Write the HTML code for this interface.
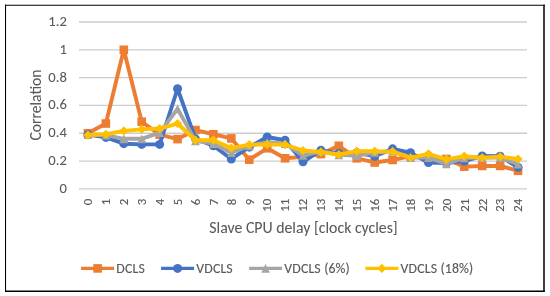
<!DOCTYPE html>
<html><head><meta charset="utf-8"><title>Correlation vs Slave CPU delay</title>
<style>
html,body{margin:0;padding:0;background:#fff;}
body{width:550px;height:296px;overflow:hidden;}
svg{display:block;}
text{font-family:Carlito,"Liberation Sans",sans-serif;font-size-adjust:ch-width 0.5068359375;fill:#595959;stroke:#595959;stroke-width:0.3px;}
.yl{font-size:14.6px;text-anchor:end;stroke-width:0.06px;}
.xl{font-size:12.8px;text-anchor:end;stroke-width:0.12px;}
.lg{font-size:13.8px;letter-spacing:0.15px;stroke-width:0.12px;}
.tt{font-size:15.8px;stroke-width:0.05px;}
.yt{font-size:15.6px;text-anchor:middle;stroke-width:0.05px;}
</style></head><body>
<svg width="550" height="296" viewBox="0 0 550 296">
<line x1="79" y1="188.9" x2="527" y2="188.9" stroke="#CDCDCD" stroke-width="1.3"/>
<line x1="79" y1="161.08" x2="527" y2="161.08" stroke="#CDCDCD" stroke-width="1.3"/>
<line x1="79" y1="133.26" x2="527" y2="133.26" stroke="#CDCDCD" stroke-width="1.3"/>
<line x1="79" y1="105.44" x2="527" y2="105.44" stroke="#CDCDCD" stroke-width="1.3"/>
<line x1="79" y1="77.62" x2="527" y2="77.62" stroke="#CDCDCD" stroke-width="1.3"/>
<line x1="79" y1="49.8" x2="527" y2="49.8" stroke="#CDCDCD" stroke-width="1.3"/>
<line x1="79" y1="21.98" x2="527" y2="21.98" stroke="#CDCDCD" stroke-width="1.3"/>
<text x="66.8" y="192.8" class="yl">0</text>
<text x="66.8" y="164.98" class="yl">0.2</text>
<text x="66.8" y="137.16" class="yl">0.4</text>
<text x="66.8" y="109.34" class="yl">0.6</text>
<text x="66.8" y="81.52" class="yl">0.8</text>
<text x="66.8" y="53.7" class="yl">1</text>
<text x="66.8" y="25.88" class="yl">1.2</text>
<text transform="translate(92.26,198.7) rotate(-90)" class="xl">0</text>
<text transform="translate(110.18,198.7) rotate(-90)" class="xl">1</text>
<text transform="translate(128.1,198.7) rotate(-90)" class="xl">2</text>
<text transform="translate(146.02,198.7) rotate(-90)" class="xl">3</text>
<text transform="translate(163.94,198.7) rotate(-90)" class="xl">4</text>
<text transform="translate(181.86,198.7) rotate(-90)" class="xl">5</text>
<text transform="translate(199.78,198.7) rotate(-90)" class="xl">6</text>
<text transform="translate(217.7,198.7) rotate(-90)" class="xl">7</text>
<text transform="translate(235.62,198.7) rotate(-90)" class="xl">8</text>
<text transform="translate(253.54,198.7) rotate(-90)" class="xl">9</text>
<text transform="translate(271.46,198.7) rotate(-90)" class="xl">10</text>
<text transform="translate(289.38,198.7) rotate(-90)" class="xl">11</text>
<text transform="translate(307.3,198.7) rotate(-90)" class="xl">12</text>
<text transform="translate(325.22,198.7) rotate(-90)" class="xl">13</text>
<text transform="translate(343.14,198.7) rotate(-90)" class="xl">14</text>
<text transform="translate(361.06,198.7) rotate(-90)" class="xl">15</text>
<text transform="translate(378.98,198.7) rotate(-90)" class="xl">16</text>
<text transform="translate(396.9,198.7) rotate(-90)" class="xl">17</text>
<text transform="translate(414.82,198.7) rotate(-90)" class="xl">18</text>
<text transform="translate(432.74,198.7) rotate(-90)" class="xl">19</text>
<text transform="translate(450.66,198.7) rotate(-90)" class="xl">20</text>
<text transform="translate(468.58,198.7) rotate(-90)" class="xl">21</text>
<text transform="translate(486.5,198.7) rotate(-90)" class="xl">22</text>
<text transform="translate(504.42,198.7) rotate(-90)" class="xl">23</text>
<text transform="translate(522.34,198.7) rotate(-90)" class="xl">24</text>
<polyline points="87.96,133.26 105.88,123.52 123.8,49.8 141.72,121.71 159.64,134.65 177.56,139.1 195.48,130.06 213.4,134.23 231.32,138.41 249.24,159.69 267.16,148.28 285.08,158.3 303,156.91 320.92,154.12 338.84,145.78 356.76,158.3 374.68,162.47 392.6,159.97 410.52,156.21 428.44,157.6 446.36,158.99 464.28,166.64 482.2,165.95 500.12,165.95 518.04,170.82" fill="none" stroke="#ED7D31" stroke-width="3.9" stroke-linejoin="round" stroke-linecap="round"/>
<rect x="83.66" y="128.96" width="8.6" height="8.6" fill="#ED7D31"/>
<rect x="101.58" y="119.22" width="8.6" height="8.6" fill="#ED7D31"/>
<rect x="119.5" y="45.5" width="8.6" height="8.6" fill="#ED7D31"/>
<rect x="137.42" y="117.41" width="8.6" height="8.6" fill="#ED7D31"/>
<rect x="155.34" y="130.35" width="8.6" height="8.6" fill="#ED7D31"/>
<rect x="173.26" y="134.8" width="8.6" height="8.6" fill="#ED7D31"/>
<rect x="191.18" y="125.76" width="8.6" height="8.6" fill="#ED7D31"/>
<rect x="209.1" y="129.93" width="8.6" height="8.6" fill="#ED7D31"/>
<rect x="227.02" y="134.11" width="8.6" height="8.6" fill="#ED7D31"/>
<rect x="244.94" y="155.39" width="8.6" height="8.6" fill="#ED7D31"/>
<rect x="262.86" y="143.98" width="8.6" height="8.6" fill="#ED7D31"/>
<rect x="280.78" y="154" width="8.6" height="8.6" fill="#ED7D31"/>
<rect x="298.7" y="152.61" width="8.6" height="8.6" fill="#ED7D31"/>
<rect x="316.62" y="149.82" width="8.6" height="8.6" fill="#ED7D31"/>
<rect x="334.54" y="141.48" width="8.6" height="8.6" fill="#ED7D31"/>
<rect x="352.46" y="154" width="8.6" height="8.6" fill="#ED7D31"/>
<rect x="370.38" y="158.17" width="8.6" height="8.6" fill="#ED7D31"/>
<rect x="388.3" y="155.67" width="8.6" height="8.6" fill="#ED7D31"/>
<rect x="406.22" y="151.91" width="8.6" height="8.6" fill="#ED7D31"/>
<rect x="424.14" y="153.3" width="8.6" height="8.6" fill="#ED7D31"/>
<rect x="442.06" y="154.69" width="8.6" height="8.6" fill="#ED7D31"/>
<rect x="459.98" y="162.34" width="8.6" height="8.6" fill="#ED7D31"/>
<rect x="477.9" y="161.65" width="8.6" height="8.6" fill="#ED7D31"/>
<rect x="495.82" y="161.65" width="8.6" height="8.6" fill="#ED7D31"/>
<rect x="513.74" y="166.52" width="8.6" height="8.6" fill="#ED7D31"/>
<polyline points="87.96,134.65 105.88,137.43 123.8,143.69 141.72,144.39 159.64,144.39 177.56,88.75 195.48,138.82 213.4,145.78 231.32,158.99 249.24,147.17 267.16,137.02 285.08,140.22 303,161.78 320.92,150.37 338.84,153.43 356.76,152.73 374.68,156.21 392.6,148.84 410.52,152.73 428.44,162.47 446.36,163.17 464.28,161.08 482.2,155.93 500.12,156.21 518.04,167.34" fill="none" stroke="#4472C4" stroke-width="3.9" stroke-linejoin="round" stroke-linecap="round"/>
<circle cx="87.96" cy="134.65" r="4.5" fill="#4472C4"/>
<circle cx="105.88" cy="137.43" r="4.5" fill="#4472C4"/>
<circle cx="123.8" cy="143.69" r="4.5" fill="#4472C4"/>
<circle cx="141.72" cy="144.39" r="4.5" fill="#4472C4"/>
<circle cx="159.64" cy="144.39" r="4.5" fill="#4472C4"/>
<circle cx="177.56" cy="88.75" r="4.5" fill="#4472C4"/>
<circle cx="195.48" cy="138.82" r="4.5" fill="#4472C4"/>
<circle cx="213.4" cy="145.78" r="4.5" fill="#4472C4"/>
<circle cx="231.32" cy="158.99" r="4.5" fill="#4472C4"/>
<circle cx="249.24" cy="147.17" r="4.5" fill="#4472C4"/>
<circle cx="267.16" cy="137.02" r="4.5" fill="#4472C4"/>
<circle cx="285.08" cy="140.22" r="4.5" fill="#4472C4"/>
<circle cx="303" cy="161.78" r="4.5" fill="#4472C4"/>
<circle cx="320.92" cy="150.37" r="4.5" fill="#4472C4"/>
<circle cx="338.84" cy="153.43" r="4.5" fill="#4472C4"/>
<circle cx="356.76" cy="152.73" r="4.5" fill="#4472C4"/>
<circle cx="374.68" cy="156.21" r="4.5" fill="#4472C4"/>
<circle cx="392.6" cy="148.84" r="4.5" fill="#4472C4"/>
<circle cx="410.52" cy="152.73" r="4.5" fill="#4472C4"/>
<circle cx="428.44" cy="162.47" r="4.5" fill="#4472C4"/>
<circle cx="446.36" cy="163.17" r="4.5" fill="#4472C4"/>
<circle cx="464.28" cy="161.08" r="4.5" fill="#4472C4"/>
<circle cx="482.2" cy="155.93" r="4.5" fill="#4472C4"/>
<circle cx="500.12" cy="156.21" r="4.5" fill="#4472C4"/>
<circle cx="518.04" cy="167.34" r="4.5" fill="#4472C4"/>
<polyline points="87.96,134.65 105.88,135.07 123.8,138.82 141.72,138.82 159.64,132.7 177.56,108.92 195.48,140.91 213.4,143.69 231.32,152.73 249.24,145.78 267.16,142.3 285.08,143.69 303,155.52 320.92,151.34 338.84,154.82 356.76,155.52 374.68,152.46 392.6,151.34 410.52,157.6 428.44,157.6 446.36,163.86 464.28,158.02 482.2,157.6 500.12,157.6 518.04,164.14" fill="none" stroke="#A5A5A5" stroke-width="3.9" stroke-linejoin="round" stroke-linecap="round"/>
<polygon points="87.96,130.3 92.31,139 83.61,139" fill="#A5A5A5"/>
<polygon points="105.88,130.72 110.23,139.42 101.53,139.42" fill="#A5A5A5"/>
<polygon points="123.8,134.47 128.15,143.17 119.45,143.17" fill="#A5A5A5"/>
<polygon points="141.72,134.47 146.07,143.17 137.37,143.17" fill="#A5A5A5"/>
<polygon points="159.64,128.35 163.99,137.05 155.29,137.05" fill="#A5A5A5"/>
<polygon points="177.56,104.57 181.91,113.27 173.21,113.27" fill="#A5A5A5"/>
<polygon points="195.48,136.56 199.83,145.26 191.13,145.26" fill="#A5A5A5"/>
<polygon points="213.4,139.34 217.75,148.04 209.05,148.04" fill="#A5A5A5"/>
<polygon points="231.32,148.38 235.67,157.08 226.97,157.08" fill="#A5A5A5"/>
<polygon points="249.24,141.43 253.59,150.13 244.89,150.13" fill="#A5A5A5"/>
<polygon points="267.16,137.95 271.51,146.65 262.81,146.65" fill="#A5A5A5"/>
<polygon points="285.08,139.34 289.43,148.04 280.73,148.04" fill="#A5A5A5"/>
<polygon points="303,151.17 307.35,159.87 298.65,159.87" fill="#A5A5A5"/>
<polygon points="320.92,146.99 325.27,155.69 316.57,155.69" fill="#A5A5A5"/>
<polygon points="338.84,150.47 343.19,159.17 334.49,159.17" fill="#A5A5A5"/>
<polygon points="356.76,151.17 361.11,159.87 352.41,159.87" fill="#A5A5A5"/>
<polygon points="374.68,148.11 379.03,156.81 370.33,156.81" fill="#A5A5A5"/>
<polygon points="392.6,146.99 396.95,155.69 388.25,155.69" fill="#A5A5A5"/>
<polygon points="410.52,153.25 414.87,161.95 406.17,161.95" fill="#A5A5A5"/>
<polygon points="428.44,153.25 432.79,161.95 424.09,161.95" fill="#A5A5A5"/>
<polygon points="446.36,159.51 450.71,168.21 442.01,168.21" fill="#A5A5A5"/>
<polygon points="464.28,153.67 468.63,162.37 459.93,162.37" fill="#A5A5A5"/>
<polygon points="482.2,153.25 486.55,161.95 477.85,161.95" fill="#A5A5A5"/>
<polygon points="500.12,153.25 504.47,161.95 495.77,161.95" fill="#A5A5A5"/>
<polygon points="518.04,159.79 522.39,168.49 513.69,168.49" fill="#A5A5A5"/>
<polyline points="87.96,135.07 105.88,134.23 123.8,130.9 141.72,129.37 159.64,128.53 177.56,123.52 195.48,140.22 213.4,140.22 231.32,148.14 249.24,144.67 267.16,144.53 285.08,144.67 303,150.51 320.92,152.04 338.84,154.54 356.76,151.2 374.68,151.2 392.6,151.62 410.52,157.74 428.44,153.85 446.36,159.41 464.28,156.21 482.2,157.74 500.12,156.63 518.04,158.99" fill="none" stroke="#FFC000" stroke-width="3.9" stroke-linejoin="round" stroke-linecap="round"/>
<polygon points="87.96,130.47 92.56,135.07 87.96,139.67 83.36,135.07" fill="#FFC000"/>
<polygon points="105.88,129.63 110.48,134.23 105.88,138.83 101.28,134.23" fill="#FFC000"/>
<polygon points="123.8,126.3 128.4,130.9 123.8,135.5 119.2,130.9" fill="#FFC000"/>
<polygon points="141.72,124.77 146.32,129.37 141.72,133.97 137.12,129.37" fill="#FFC000"/>
<polygon points="159.64,123.93 164.24,128.53 159.64,133.13 155.04,128.53" fill="#FFC000"/>
<polygon points="177.56,118.92 182.16,123.52 177.56,128.12 172.96,123.52" fill="#FFC000"/>
<polygon points="195.48,135.62 200.08,140.22 195.48,144.81 190.88,140.22" fill="#FFC000"/>
<polygon points="213.4,135.62 218,140.22 213.4,144.81 208.8,140.22" fill="#FFC000"/>
<polygon points="231.32,143.54 235.92,148.14 231.32,152.74 226.72,148.14" fill="#FFC000"/>
<polygon points="249.24,140.07 253.84,144.67 249.24,149.27 244.64,144.67" fill="#FFC000"/>
<polygon points="267.16,139.93 271.76,144.53 267.16,149.13 262.56,144.53" fill="#FFC000"/>
<polygon points="285.08,140.07 289.68,144.67 285.08,149.27 280.48,144.67" fill="#FFC000"/>
<polygon points="303,145.91 307.6,150.51 303,155.11 298.4,150.51" fill="#FFC000"/>
<polygon points="320.92,147.44 325.52,152.04 320.92,156.64 316.32,152.04" fill="#FFC000"/>
<polygon points="338.84,149.94 343.44,154.54 338.84,159.14 334.24,154.54" fill="#FFC000"/>
<polygon points="356.76,146.6 361.36,151.2 356.76,155.8 352.16,151.2" fill="#FFC000"/>
<polygon points="374.68,146.6 379.28,151.2 374.68,155.8 370.08,151.2" fill="#FFC000"/>
<polygon points="392.6,147.02 397.2,151.62 392.6,156.22 388,151.62" fill="#FFC000"/>
<polygon points="410.52,153.14 415.12,157.74 410.52,162.34 405.92,157.74" fill="#FFC000"/>
<polygon points="428.44,149.25 433.04,153.85 428.44,158.45 423.84,153.85" fill="#FFC000"/>
<polygon points="446.36,154.81 450.96,159.41 446.36,164.01 441.76,159.41" fill="#FFC000"/>
<polygon points="464.28,151.61 468.88,156.21 464.28,160.81 459.68,156.21" fill="#FFC000"/>
<polygon points="482.2,153.14 486.8,157.74 482.2,162.34 477.6,157.74" fill="#FFC000"/>
<polygon points="500.12,152.03 504.72,156.63 500.12,161.23 495.52,156.63" fill="#FFC000"/>
<polygon points="518.04,154.39 522.64,158.99 518.04,163.59 513.44,158.99" fill="#FFC000"/>
<line x1="81.1" y1="268.4" x2="114.1" y2="268.4" stroke="#ED7D31" stroke-width="3.2"/>
<rect x="93.3" y="264.1" width="8.6" height="8.6" fill="#ED7D31"/>
<text x="116.3" y="272.7" class="lg">DCLS</text>
<line x1="161.1" y1="268.4" x2="194.1" y2="268.4" stroke="#4472C4" stroke-width="3.2"/>
<circle cx="177.6" cy="268.4" r="4.5" fill="#4472C4"/>
<text x="196.3" y="272.7" class="lg">VDCLS</text>
<line x1="249.1" y1="268.4" x2="282.1" y2="268.4" stroke="#A5A5A5" stroke-width="3.2"/>
<polygon points="265.6,264.05 269.95,272.75 261.25,272.75" fill="#A5A5A5"/>
<text x="284.3" y="272.7" class="lg">VDCLS (6%)</text>
<line x1="365.4" y1="268.4" x2="398.4" y2="268.4" stroke="#FFC000" stroke-width="3.2"/>
<polygon points="381.9,263.8 386.5,268.4 381.9,273 377.3,268.4" fill="#FFC000"/>
<text x="400.6" y="272.7" class="lg">VDCLS (18%)</text>
<text x="209.3" y="232.7" class="tt">Slave CPU delay [clock cycles]</text>
<text transform="translate(40.7,105) rotate(-90)" class="yt">Correlation</text>
<rect x="5" y="4.75" width="539.75" height="1.0" fill="#000"/>
<rect x="5" y="4.65" width="1.05" height="287.35" fill="#000"/>
<rect x="543.25" y="4.65" width="1.5" height="287.35" fill="#000"/>
<rect x="5" y="290.5" width="539.75" height="1.5" fill="#000"/>
</svg>
</body></html>
